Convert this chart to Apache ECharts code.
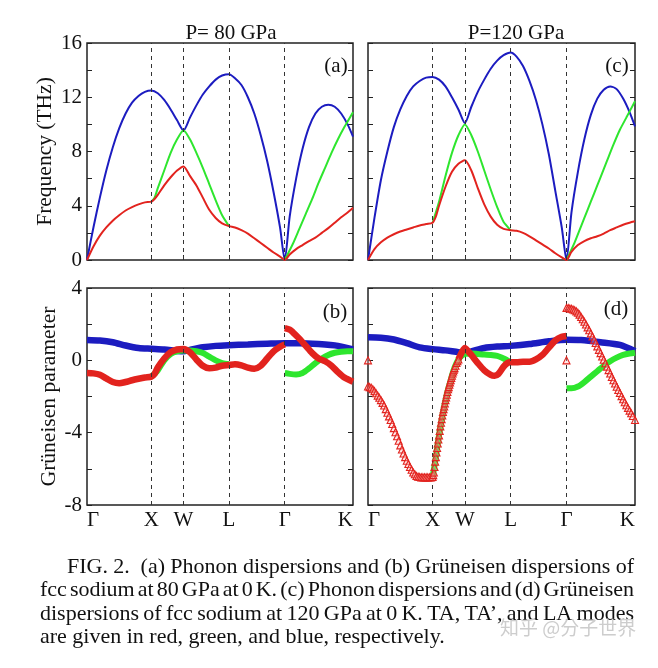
<!DOCTYPE html>
<html>
<head>
<meta charset="utf-8">
<script src="https://cdn.jsdelivr.net/npm/echarts@6/dist/echarts.min.js"></script>
<style>
html, body { margin: 0; padding: 0; background: #fff; }
#chart { width: 658px; height: 668px; }
</style>
</head>
<body>
<div id="chart"></div>
<script>
// high-symmetry points along the path (units of 2pi/a)
var kPts = [0, 1, 1.5, 2.207, 3.073, 4.134];
var kNames = ['Γ', 'X', 'W', 'L', 'Γ', 'K'];
var freqTicks = [0, 16];
var gruTicks = [-8, 4];

// (a) phonon dispersion, 80 GPa
var freq80LA = [[0,0],[0.1,2.4],[0.2,4.6],[0.3,6.6],[0.4,8.3],[0.5,9.7],[0.6,10.8],[0.7,11.6],[0.8,12.1],[0.9,12.4],[1,12.5],[1.1,12.3],[1.2,11.8],[1.3,11.1],[1.4,10.3],[1.5,9.55],[1.6,10.5],[1.7,11.4],[1.8,12.2],[1.9,12.8],[2.0,13.3],[2.1,13.6],[2.207,13.7],[2.3,13.4],[2.4,12.9],[2.5,12.0],[2.6,10.8],[2.7,9.2],[2.8,7.3],[2.9,5.0],[3.0,2.4],[3.073,0],[3.15,3.2],[3.25,6.0],[3.35,8.2],[3.45,9.8],[3.55,10.8],[3.65,11.3],[3.75,11.45],[3.85,11.3],[3.95,10.8],[4.05,10.0],[4.134,9.1]];
var freq80TA2 = [[1,4.3],[1.05,4.6],[1.1,5.3],[1.2,6.6],[1.3,7.9],[1.4,8.9],[1.5,9.55],[1.6,8.9],[1.7,7.9],[1.8,6.8],[1.9,5.6],[2.0,4.4],[2.1,3.3],[2.207,2.5],[2.207,null],[3.073,0],[3.2,1.2],[3.3,2.3],[3.4,3.4],[3.5,4.5],[3.6,5.7],[3.7,6.8],[3.8,7.9],[3.9,8.9],[4.0,9.8],[4.134,10.9]];
var freq80TA = [[0,0],[0.1,1.0],[0.2,1.8],[0.3,2.4],[0.4,2.9],[0.5,3.3],[0.6,3.65],[0.7,3.9],[0.8,4.1],[0.9,4.25],[1,4.3],[1.05,4.5],[1.1,4.8],[1.2,5.5],[1.3,6.1],[1.4,6.6],[1.5,6.9],[1.6,6.2],[1.7,5.5],[1.8,4.6],[1.9,3.7],[2.0,3.1],[2.1,2.7],[2.207,2.5],[2.3,2.4],[2.4,2.2],[2.5,1.95],[2.6,1.6],[2.7,1.25],[2.8,0.9],[2.9,0.55],[3.0,0.25],[3.073,0],[3.15,0.4],[3.25,0.8],[3.35,1.1],[3.45,1.4],[3.55,1.65],[3.65,2.0],[3.75,2.35],[3.85,2.75],[3.95,3.15],[4.05,3.5],[4.134,3.85]];

// (c) phonon dispersion, 120 GPa
var freq120LA = [[0,0],[0.1,3.1],[0.2,5.9],[0.3,8.0],[0.4,9.8],[0.5,11.1],[0.6,12.1],[0.7,12.8],[0.8,13.2],[0.9,13.45],[1,13.5],[1.1,13.3],[1.2,12.8],[1.3,12.0],[1.4,11.1],[1.5,10.1],[1.6,11.3],[1.7,12.4],[1.8,13.3],[1.9,14.1],[2.0,14.7],[2.1,15.1],[2.207,15.3],[2.3,15.0],[2.4,14.3],[2.5,13.2],[2.6,11.8],[2.7,10.0],[2.8,7.8],[2.9,5.1],[3.0,2.4],[3.073,0],[3.15,3.5],[3.25,6.5],[3.35,8.9],[3.45,10.7],[3.55,11.9],[3.65,12.55],[3.75,12.8],[3.85,12.6],[3.95,11.9],[4.05,10.9],[4.134,9.85]];
var freq120TA2 = [[1,2.75],[1.1,4.3],[1.2,6.2],[1.3,7.9],[1.4,9.2],[1.5,10.0],[1.6,9.2],[1.7,8.0],[1.8,6.6],[1.9,5.2],[2.0,3.9],[2.1,2.8],[2.207,2.2],[2.207,null],[3.073,0],[3.2,1.3],[3.3,2.5],[3.4,3.7],[3.5,4.9],[3.6,6.1],[3.7,7.3],[3.8,8.5],[3.9,9.6],[4.0,10.5],[4.134,11.7]];
var freq120TA = [[0,0],[0.1,0.8],[0.2,1.3],[0.3,1.65],[0.4,1.9],[0.5,2.1],[0.6,2.25],[0.7,2.4],[0.8,2.55],[0.9,2.65],[1,2.75],[1.05,3.2],[1.1,4.0],[1.2,5.4],[1.3,6.5],[1.4,7.1],[1.5,7.35],[1.6,6.6],[1.7,5.3],[1.8,4.1],[1.9,3.2],[2.0,2.6],[2.1,2.3],[2.207,2.2],[2.3,2.15],[2.4,2.0],[2.5,1.75],[2.6,1.45],[2.7,1.15],[2.8,0.85],[2.9,0.5],[3.0,0.2],[3.073,0],[3.15,0.6],[3.25,1.1],[3.35,1.4],[3.45,1.6],[3.55,1.75],[3.65,1.95],[3.75,2.2],[3.85,2.4],[3.95,2.6],[4.05,2.75],[4.134,2.85]];

// (b) Grueneisen parameter, 80 GPa
var gru80LA = [[0,1.13],[0.2,1.1],[0.4,1.0],[0.6,0.82],[0.8,0.68],[1,0.64],[1.2,0.6],[1.4,0.52],[1.5,0.5],[1.6,0.58],[1.8,0.72],[2.0,0.8],[2.207,0.84],[2.5,0.88],[2.8,0.92],[3.073,0.95],[3.3,0.95],[3.6,0.9],[3.9,0.8],[4.134,0.6]];
var gru80TA2 = [[1,-0.9],[1.1,-0.55],[1.2,0.0],[1.3,0.35],[1.4,0.5],[1.5,0.55],[1.6,0.55],[1.7,0.5],[1.8,0.4],[1.9,0.2],[2.0,0.0],[2.1,-0.15],[2.207,-0.22],[2.207,null],[3.073,-0.7],[3.15,-0.75],[3.25,-0.78],[3.35,-0.7],[3.45,-0.45],[3.55,-0.15],[3.65,0.1],[3.75,0.3],[3.85,0.42],[3.95,0.48],[4.05,0.5],[4.134,0.5]];
var gru80TA = [[0,-0.7],[0.1,-0.72],[0.2,-0.8],[0.3,-1.0],[0.4,-1.2],[0.5,-1.27],[0.6,-1.2],[0.7,-1.1],[0.8,-1.02],[0.9,-0.95],[1.0,-0.9],[1.05,-0.75],[1.1,-0.4],[1.2,0.1],[1.3,0.45],[1.4,0.6],[1.5,0.63],[1.6,0.45],[1.7,0.05],[1.8,-0.3],[1.9,-0.44],[2.0,-0.4],[2.1,-0.3],[2.207,-0.26],[2.3,-0.22],[2.4,-0.28],[2.5,-0.4],[2.6,-0.46],[2.7,-0.3],[2.8,0.1],[2.9,0.5],[3.0,0.75],[3.073,0.88],[3.073,null],[3.073,1.78],[3.15,1.7],[3.2,1.55],[3.3,1.2],[3.4,0.8],[3.5,0.4],[3.6,0.1],[3.7,-0.05],[3.8,-0.3],[3.9,-0.65],[4.0,-0.95],[4.134,-1.18]];

// (d) Grueneisen parameter, 120 GPa
var gru120LA = [[0,1.27],[0.2,1.25],[0.4,1.15],[0.6,0.95],[0.8,0.72],[1,0.62],[1.2,0.55],[1.4,0.45],[1.5,0.42],[1.6,0.5],[1.8,0.68],[2.0,0.76],[2.207,0.8],[2.5,0.9],[2.8,1.05],[3.073,1.14],[3.3,1.12],[3.6,1.0],[3.9,0.85],[4.134,0.5]];
var gru120TA2 = [[1.0,-6.45],[1.04,-5.6],[1.08,-4.6],[1.12,-3.7],[1.16,-2.9],[1.2,-2.2],[1.24,-1.6],[1.28,-1.1],[1.32,-0.6],[1.37,-0.15],[1.42,0.15],[1.5,0.35],[1.6,0.38],[1.7,0.35],[1.8,0.32],[1.9,0.3],[2.0,0.25],[2.1,0.1],[2.207,-0.1],[2.207,null],[3.073,-1.55],[3.15,-1.55],[3.25,-1.45],[3.35,-1.2],[3.45,-0.9],[3.55,-0.6],[3.65,-0.3],[3.75,-0.05],[3.85,0.15],[3.95,0.3],[4.05,0.38],[4.134,0.42]];
var gru120TA_GX = [[0,-1.45],[0.025,-1.48],[0.05,-1.52],[0.075,-1.6],[0.1,-1.7],[0.125,-1.82],[0.15,-1.95],[0.175,-2.07],[0.2,-2.2],[0.225,-2.35],[0.25,-2.5],[0.275,-2.7],[0.3,-2.9],[0.325,-3.1],[0.35,-3.3],[0.375,-3.52],[0.4,-3.75],[0.425,-3.98],[0.45,-4.2],[0.475,-4.45],[0.5,-4.7],[0.525,-4.93],[0.55,-5.15],[0.575,-5.35],[0.6,-5.55],[0.625,-5.73],[0.65,-5.9],[0.675,-6.05],[0.7,-6.2],[0.725,-6.3],[0.75,-6.4],[0.775,-6.43],[0.8,-6.45],[0.825,-6.47],[0.85,-6.47],[0.875,-6.47],[0.9,-6.47],[0.925,-6.47],[0.95,-6.47],[0.975,-6.47],[1.0,-6.45],[1.01,-6.35],[1.02,-6.2],[1.03,-5.9],[1.04,-5.6],[1.05,-5.35],[1.06,-5.1],[1.07,-4.85],[1.08,-4.6],[1.09,-4.38],[1.1,-4.15],[1.11,-3.9],[1.12,-3.65],[1.13,-3.45],[1.14,-3.25],[1.15,-3.05],[1.16,-2.85],[1.17,-2.7],[1.18,-2.55],[1.19,-2.38],[1.2,-2.2],[1.21,-2.05],[1.22,-1.9],[1.23,-1.75],[1.24,-1.6],[1.25,-1.48],[1.26,-1.35],[1.27,-1.22],[1.28,-1.1],[1.29,-0.97],[1.3,-0.85],[1.31,-0.73],[1.32,-0.62],[1.33,-0.52],[1.34,-0.43],[1.355,-0.3],[1.37,-0.15],[1.385,-0.05],[1.4,0.05]];
var gru120TA_WL = [[1.4,0.05],[1.42,0.2],[1.46,0.5],[1.5,0.68],[1.55,0.5],[1.6,0.3],[1.7,-0.15],[1.8,-0.55],[1.9,-0.8],[1.96,-0.85],[2.02,-0.75],[2.1,-0.35],[2.16,-0.15],[2.207,-0.1],[2.3,-0.1],[2.4,-0.08],[2.5,-0.08],[2.6,0.05],[2.7,0.3],[2.8,0.7],[2.9,1.1],[3.0,1.3],[3.073,1.35]];
var gru120TA_GK = [[3.073,2.9],[3.1,2.89],[3.125,2.87],[3.15,2.85],[3.175,2.81],[3.2,2.77],[3.225,2.71],[3.25,2.63],[3.275,2.53],[3.3,2.4],[3.325,2.27],[3.35,2.13],[3.375,1.98],[3.4,1.82],[3.425,1.66],[3.45,1.49],[3.475,1.32],[3.5,1.14],[3.525,0.96],[3.55,0.77],[3.575,0.58],[3.6,0.4],[3.625,0.21],[3.65,0.03],[3.675,-0.16],[3.7,-0.35],[3.725,-0.54],[3.75,-0.73],[3.775,-0.92],[3.8,-1.1],[3.825,-1.28],[3.85,-1.46],[3.875,-1.64],[3.9,-1.81],[3.925,-1.98],[3.95,-2.15],[3.975,-2.32],[4.0,-2.48],[4.025,-2.63],[4.05,-2.78],[4.075,-2.93],[4.1,-3.08],[4.134,-3.3]];
var gru120TA_gamma = [[0,0],[3.073,0]];

var captionLines = [
  'FIG. 2.  (a) Phonon dispersions and (b) Grüneisen dispersions of',
  'fcc sodium at 80 GPa at 0 K. (c) Phonon dispersions and (d) Grüneisen',
  'dispersions of fcc sodium at 120 GPa at 0 K. TA, TA’, and LA modes',
  'are given in red, green, and blue, respectively.'
];

var SERIF = '"Liberation Serif", "Times New Roman", serif';
var BLUE = '#1c1cc0', GREEN = '#2ee62e', RED = '#e2231e';

var dom = document.getElementById('chart');
var myChart = echarts.init(dom, null, {renderer: 'canvas'});

var grids = [
  {left: 87, top: 43, width: 266, height: 217, show: true, borderColor: '#222', borderWidth: 1.5},
  {left: 368, top: 43, width: 267, height: 217, show: true, borderColor: '#222', borderWidth: 1.5},
  {left: 87, top: 288, width: 266, height: 217, show: true, borderColor: '#222', borderWidth: 1.5},
  {left: 368, top: 288, width: 267, height: 217, show: true, borderColor: '#222', borderWidth: 1.5}
];

function kLabel(v) {
  for (var i = 0; i < kPts.length; i++) {
    if (Math.abs(kPts[i] - v) < 0.01) return kNames[i];
  }
  return '';
}

var xAxes = [], yAxes = [];
for (var g = 0; g < 4; g++) {
  var bottomRow = g >= 2;
  xAxes.push({
    gridIndex: g, type: 'value', min: 0, max: kPts[kPts.length - 1],
    axisLine: {show: false}, splitLine: {show: false},
    axisTick: {show: true, inside: true, length: 5, customValues: kPts.slice(1, 5), lineStyle: {color: '#222'}},
    axisLabel: {
      show: bottomRow, customValues: kPts, formatter: kLabel,
      alignMinLabel: 'left', alignMaxLabel: 'right',
      fontFamily: SERIF, fontSize: 21, color: '#111', margin: 5
    }
  });
  var ticks = bottomRow ? gruTicks : freqTicks;
  var leftCol = (g === 0 || g === 2);
  var yl = {
    gridIndex: g, type: 'value', min: ticks[0], max: ticks[1], interval: 2,
    axisLine: {show: false}, splitLine: {show: false},
    axisTick: {inside: true, length: 5, lineStyle: {color: '#222'}},
    axisLabel: {
      show: leftCol, fontFamily: SERIF, fontSize: 21, color: '#111', margin: 5,
      formatter: function (v) { return v % 4 === 0 ? String(v) : ''; }
    }
  };
  if (g === 0) {
    yl.name = 'Frequency (THz)';
    yl.nameLocation = 'middle';
    yl.nameGap = 31;
    yl.nameTextStyle = {fontFamily: SERIF, fontSize: 21.5, color: '#111'};
  }
  if (g === 2) {
    yl.name = 'Grüneisen parameter';
    yl.nameLocation = 'middle';
    yl.nameGap = 24;
    yl.nameTextStyle = {fontFamily: SERIF, fontSize: 21.5, color: '#111'};
  }
  yAxes.push(yl);
  yAxes.push({
    gridIndex: g, type: 'value', position: 'right', min: ticks[0], max: ticks[1], interval: 2,
    axisLine: {show: false}, splitLine: {show: false},
    axisTick: {inside: true, length: 5, lineStyle: {color: '#222'}},
    axisLabel: {show: false}
  });
}

var dashed = {
  silent: true, symbol: ['none', 'none'], label: {show: false},
  lineStyle: {type: [4, 4], color: '#333', width: 1},
  emphasis: {disabled: true},
  data: kPts.slice(1, 5).map(function (v) { return {xAxis: v}; })
};

function curve(g, data, color, width, z, withLines) {
  var s = {
    type: 'line', xAxisIndex: g, yAxisIndex: g * 2, data: data,
    showSymbol: false, smooth: 0.25, connectNulls: false, z: z,
    lineStyle: {color: color, width: width}, itemStyle: {color: color}
  };
  if (withLines) s.markLine = dashed;
  return s;
}

function triangles(g, data, z) {
  return {
    type: 'line', xAxisIndex: g, yAxisIndex: g * 2, data: data,
    showSymbol: true, showAllSymbol: true, symbol: 'triangle', symbolSize: 7, z: z,
    lineStyle: {opacity: 0},
    itemStyle: {color: 'rgba(255,190,190,0.35)', borderColor: RED, borderWidth: 1.1}
  };
}

var series = [
  curve(0, freq80LA, BLUE, 2, 2, true),
  curve(0, freq80TA2, GREEN, 2, 3),
  curve(0, freq80TA, RED, 2, 4),
  curve(1, freq120LA, BLUE, 2, 2, true),
  curve(1, freq120TA2, GREEN, 2, 3),
  curve(1, freq120TA, RED, 2, 4),
  curve(2, gru80LA, BLUE, 6.5, 2, true),
  curve(2, gru80TA2, GREEN, 6, 3),
  curve(2, gru80TA, RED, 6.5, 4),
  curve(3, gru120LA, BLUE, 6.5, 2, true),
  curve(3, gru120TA2, GREEN, 6, 3),
  curve(3, gru120TA_WL, RED, 6.5, 4),
  triangles(3, gru120TA_GX, 5),
  triangles(3, gru120TA_GK, 5),
  triangles(3, gru120TA_gamma, 5)
];

// caption words, spread to fill each line like the printed figure
var capFont = 22;
var ctx = document.createElement('canvas').getContext('2d');
ctx.font = capFont + 'px "Liberation Serif"';
var capStarts = [67, 40, 40, 40];
var capEnd = 634;
var capY = [568, 591, 615, 638];
var graphics = [];
captionLines.forEach(function (line, i) {
  var words = line.split(' ');
  var widths = words.map(function (w) { return ctx.measureText(w).width; });
  var total = widths.reduce(function (a, b) { return a + b; }, 0);
  var gap = i < 3 ? (capEnd - capStarts[i] - total) / (words.length - 1) : ctx.measureText(' ').width;
  var x = capStarts[i];
  words.forEach(function (w, j) {
    if (w) {
      graphics.push({
        type: 'text', left: x, top: capY[i] - 12, silent: true,
        style: {text: w, font: capFont + 'px ' + SERIF, fill: '#111'}
      });
    }
    x += widths[j] + gap;
  });
});

function label(text, cx, cy, size) {
  return {
    type: 'text', x: cx, y: cy, silent: true,
    style: {text: text, font: size + 'px ' + SERIF, fill: '#111', align: 'center', verticalAlign: 'middle'}
  };
}
graphics.push(label('P= 80 GPa', 231, 33, 21));
graphics.push(label('P=120 GPa', 516, 33, 21));
graphics.push(label('(a)', 336, 66, 21));
graphics.push(label('(b)', 335, 312, 21));
graphics.push(label('(c)', 617, 66, 21));
graphics.push(label('(d)', 616, 309, 21));
graphics.push({
  type: 'text', x: 500, y: 628, silent: true,
  style: {text: '知乎 @分子世界', font: '19px "Noto Sans CJK SC"', fill: '#cdcdcd', verticalAlign: 'middle'}
});

var option = {
  animation: false,
  backgroundColor: '#fff',
  grid: grids,
  xAxis: xAxes,
  yAxis: yAxes,
  series: series,
  graphic: graphics
};
if (option && typeof option === 'object') {
  myChart.setOption(option, true);
}
</script>
</body>
</html>
